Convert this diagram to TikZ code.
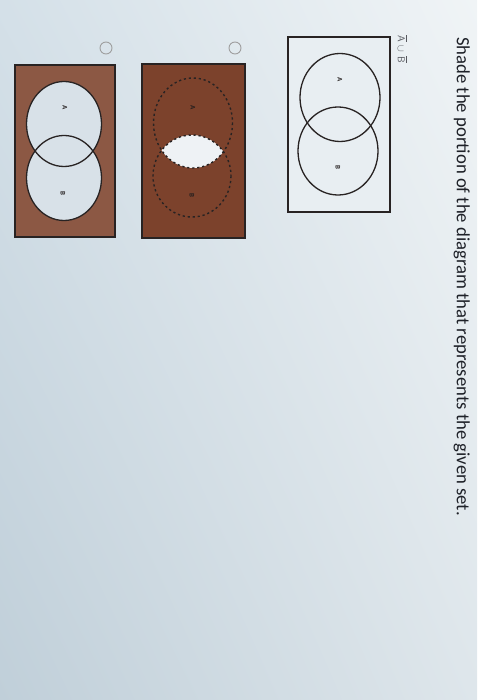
\documentclass[tikz,border=0pt]{standalone}
\usepackage{fontspec}
\setmainfont{Carlito}
\usetikzlibrary{shadings}
\definecolor{bgUL}{RGB}{212,224,232}
\definecolor{bgUR}{RGB}{240,244,246}
\definecolor{bgLL}{RGB}{192,207,217}
\definecolor{bgLR}{RGB}{222,230,235}
\definecolor{brownfill}{RGB}{124,66,44}
\definecolor{brownlight}{RGB}{140,88,68}
\definecolor{inner}{RGB}{216,225,232}
\definecolor{lens}{RGB}{238,242,245}
\definecolor{ink}{RGB}{40,35,35}
\definecolor{txt}{RGB}{30,33,40}
\tikzset{
  venn/.style={draw=ink, line width=1.3pt},
  frame/.style={draw=ink, line width=1.3pt},
  dashvenn/.style={draw=ink, line width=1.4pt, dash pattern=on 2.2pt off 2.8pt},
  radio/.style={draw=gray!75, line width=0.9pt, circle, minimum size=12pt, inner sep=0pt},
  lbl/.style={rotate=-90, font=\fontsize{7}{7}\selectfont\bfseries, text=ink, inner sep=0pt},
}
\begin{document}
\begin{tikzpicture}[x=1pt,y=-1pt]
\useasboundingbox (0,0) rectangle (477,700);
\shade[upper left=bgUL, upper right=bgUR, lower left=bgLL, lower right=bgLR] (0,0) rectangle (477,700);

% title
\node[rotate=-90, anchor=north west, inner sep=0pt, text=txt, font=\fontsize{18.7}{20}\selectfont] (title) at (470,37) {Shade the portion of the diagram that represents the given set.};
\node[rotate=-90, anchor=north west, inner sep=0pt, text=txt!75, font=\fontsize{10}{11}\selectfont] (set) at (407,35) {$\overline{\mathsf{A}}\,\cup\,\overline{\mathsf{B}}$};

% reference diagram
\draw[frame, fill=bgUR!70!bgUL] (288,37) rectangle (390,212);
\draw[venn] (340,97.5) ellipse [x radius=40, y radius=44];
\draw[venn] (338,151) ellipse [x radius=40, y radius=44];
\node[lbl] (rA) at (340,80) {A};
\node[lbl] (rB) at (338,167) {B};

% option 2 (middle)
\node[radio] (r2) at (235,48) {};
\draw[frame, fill=brownfill] (142,64) rectangle (245,238);
\begin{scope}
  \clip (193,123) ellipse [x radius=39.5, y radius=45];
  \fill[lens] (192,176) ellipse [x radius=39, y radius=41];
\end{scope}
\draw[dashvenn] (193,123) ellipse [x radius=39.5, y radius=45];
\draw[dashvenn] (192,176) ellipse [x radius=39, y radius=41];
\node[lbl, text=ink!85!black] (mA) at (193,108) {A};
\node[lbl, text=ink!85!black] (mB) at (192,195) {B};

% option 1 (left)
\node[radio] (r1) at (106,48) {};
\draw[frame, fill=brownlight] (15,65) rectangle (115,237);
\fill[inner] (64,124) ellipse [x radius=37.5, y radius=42.5];
\fill[inner] (64,178) ellipse [x radius=37.5, y radius=42.5];
\draw[venn] (64,124) ellipse [x radius=37.5, y radius=42.5];
\draw[venn] (64,178) ellipse [x radius=37.5, y radius=42.5];
\node[lbl] (lA) at (65,108) {A};
\node[lbl] (lB) at (63,193) {B};
\end{tikzpicture}
\end{document}
